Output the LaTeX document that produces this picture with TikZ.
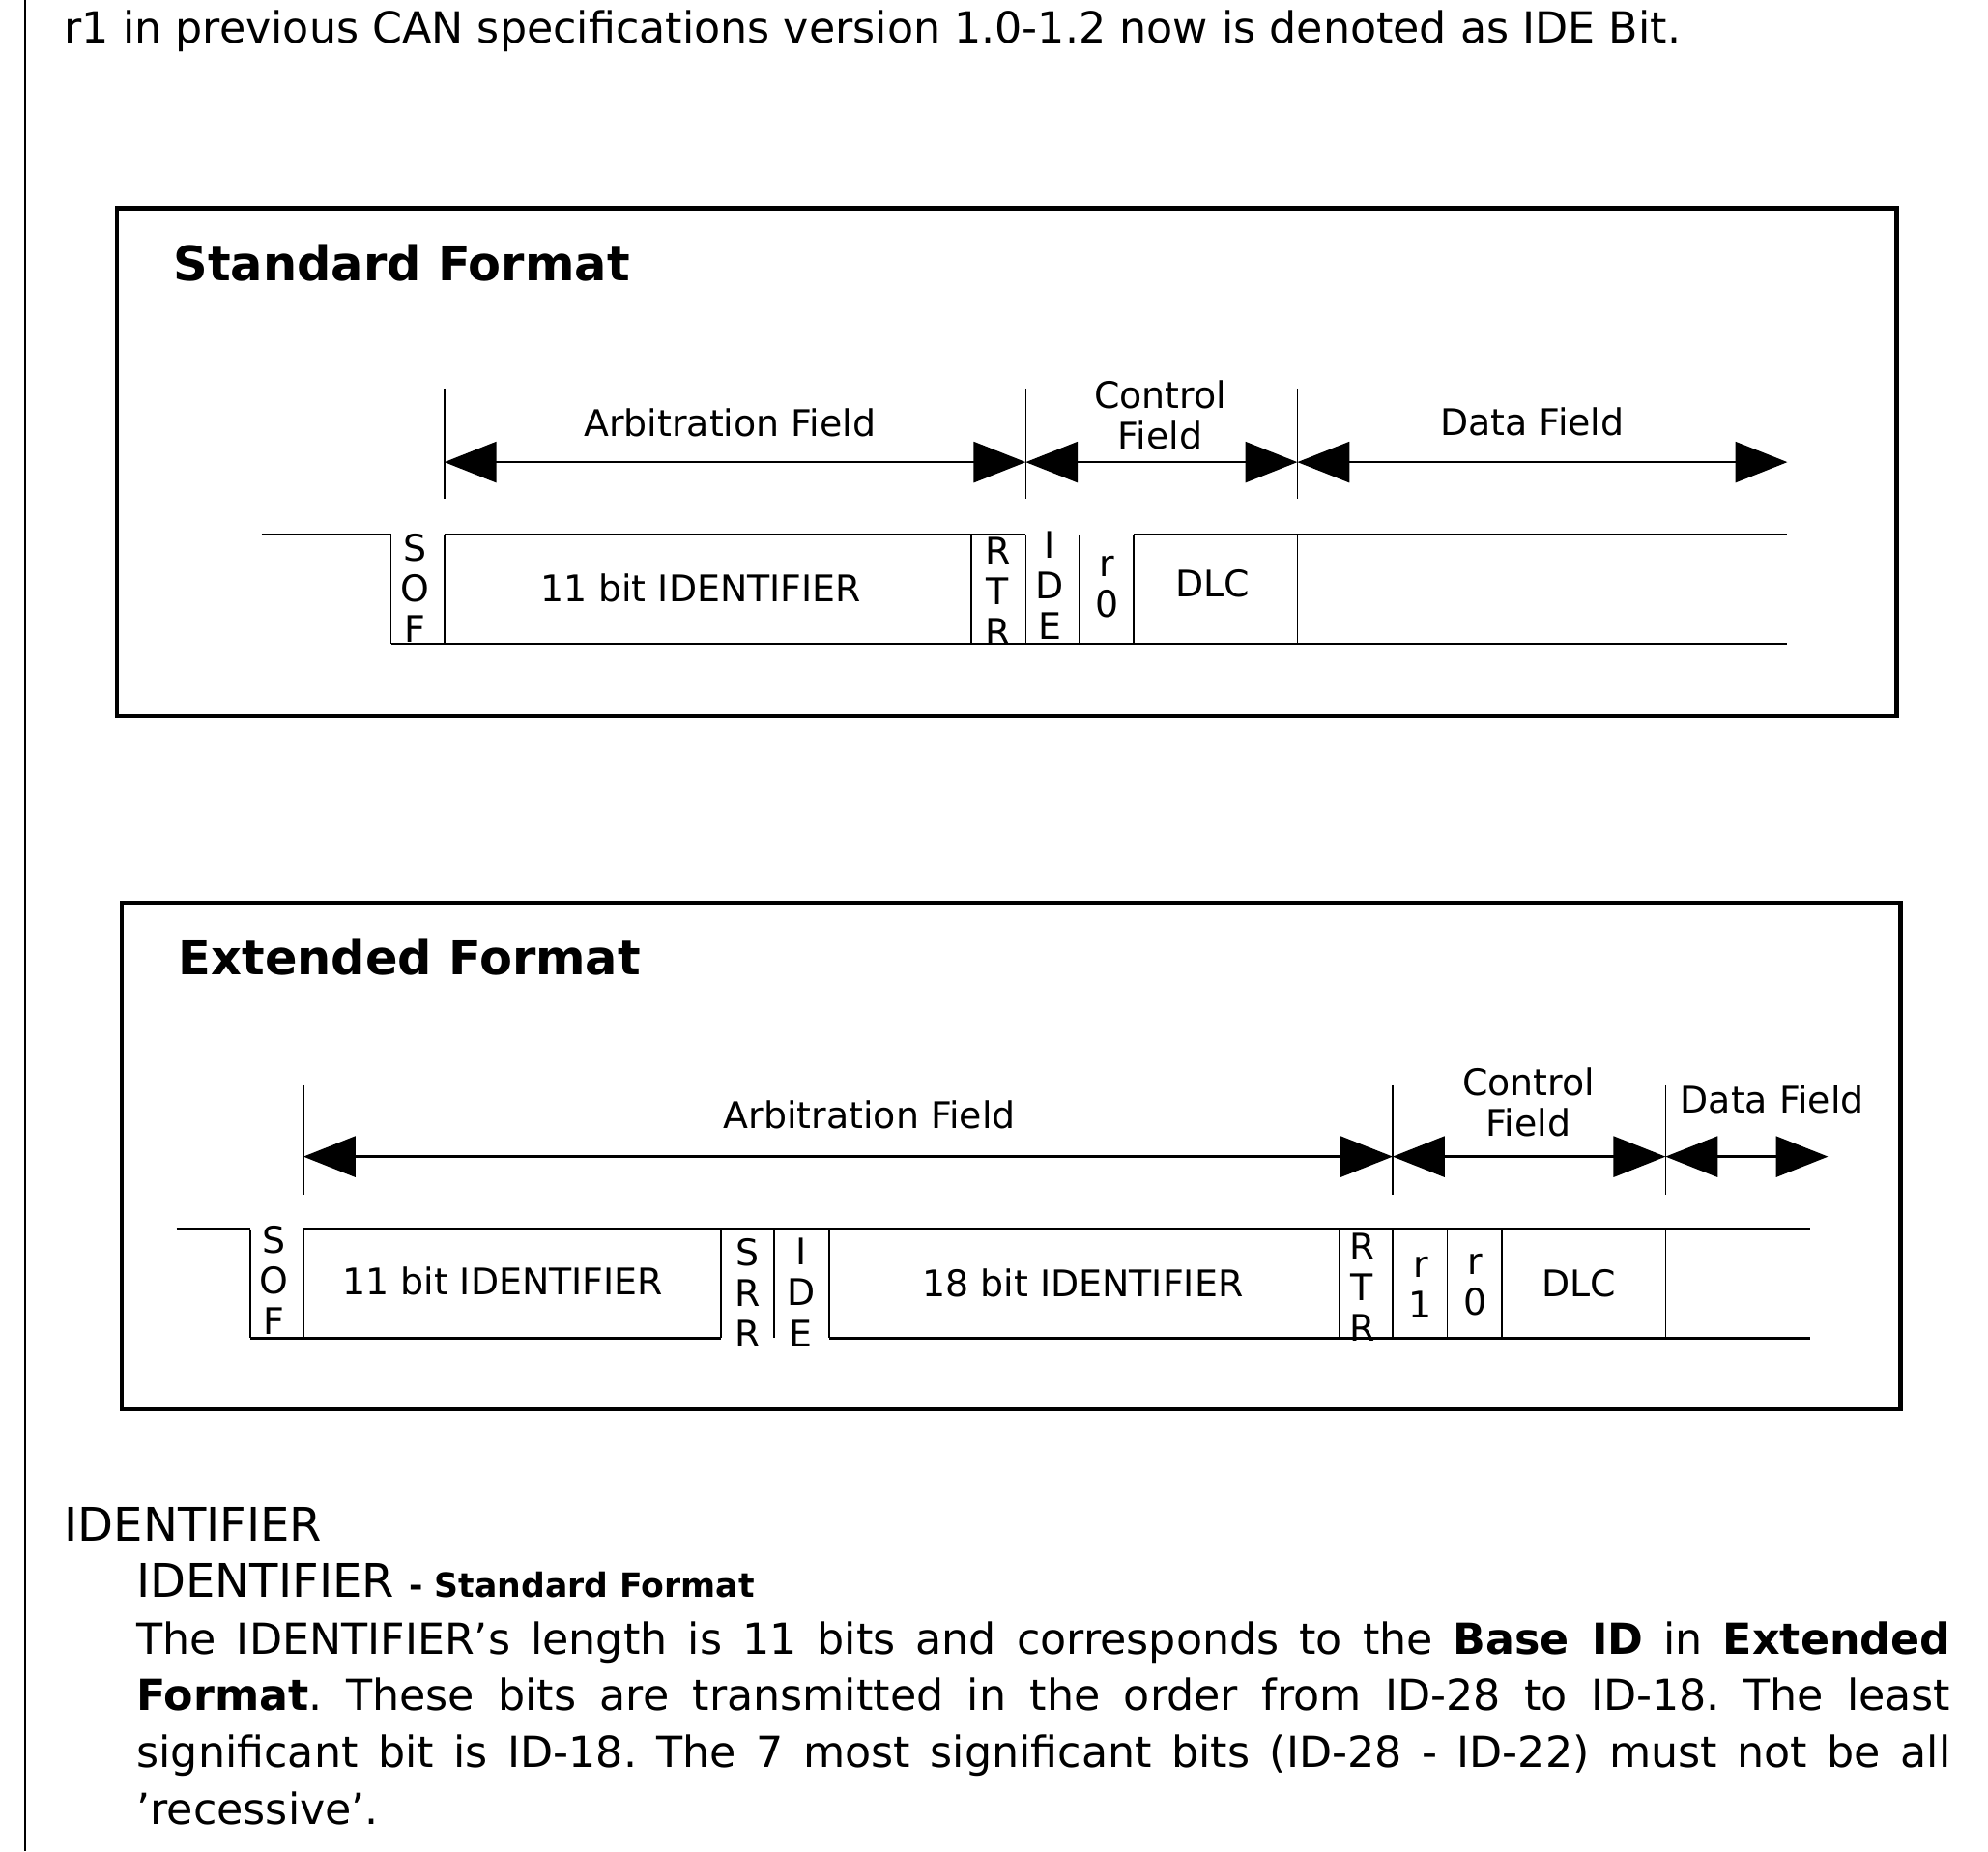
\documentclass[tikz,border=0pt]{standalone}
\usepackage{fontspec}
\setmainfont{DejaVu Sans}
\usetikzlibrary{arrows.meta}

\tikzset{
  formatbox/.style={draw, line width=1pt},
  signal/.style={line width=0.55pt},
  bitline/.style={line width=0.35pt},
  fieldtick/.style={line width=0.35pt},
  fieldarrow/.style={line width=0.55pt,
    {Triangle[length=4.1mm,width=3.2mm]}-{Triangle[length=4.1mm,width=3.2mm]}},
  fieldtext/.style={font=\fontsize{8.2}{9.1}\selectfont, inner sep=0pt},
  bittext/.style={fieldtext, align=center},
  headline/.style={font=\fontsize{10.7}{12}\selectfont\bfseries, inner sep=0pt, anchor=base west},
  bodytext/.style={font=\fontsize{9.6}{11}\selectfont\frenchspacing, inner sep=0pt, anchor=base west},
}

\begin{document}
\begin{tikzpicture}[x=0.01cm, y=-0.01cm]
  \useasboundingbox (0,0) rectangle (1566,1458);

  % Page margin
  \draw[bitline] (20,0) -- (20,1458);

  % Text above
  \node[bodytext] (note) at (50,34)
    {r1 in previous CAN specifications version 1.0-1.2 now is denoted as IDE Bit.};

  %%%%%%%%%%%%%%%% Standard Format
  \draw[formatbox] (92,164) rectangle (1494,564);
  \node[headline] (stdtitle) at (136,221) {Standard Format};

  % Define field limits
  \foreach \x/\n in {350/a, 808/b, 1022/c} {
    \draw[fieldtick] (\x,306) -- (\x,393);
    \coordinate (std\n) at (\x,364);
  }
  \coordinate (stdend) at (1408,364);

  % Define nodes
  \node[fieldtext, anchor=base] (stdarb)  at (575,344)  {Arbitration Field};
  \node[bittext]                (stdctl)  at (914,327)  {Control\\Field};
  \node[fieldtext, anchor=base] (stddata) at (1207,343) {Data Field};

  \node[bittext] (stdsof) at (327,463) {S\\O\\F};
  \node[fieldtext, anchor=base] (stdid) at (552,474) {11 bit IDENTIFIER};
  \node[bittext] (stdrtr) at (786,466) {R\\T\\R};
  \node[bittext] (stdide) at (827,461) {I\\D\\E};
  \node[bittext] (stdrz)  at (872,462) {r\\0};
  \node[fieldtext, anchor=base] (stddlc) at (955,470) {DLC};

  % Connect the nodes
  \draw[fieldarrow] (stda) -- (stdb);
  \draw[fieldarrow] (stdb) -- (stdc);
  \draw[fieldarrow] (stdc) -- (stdend);

  % Bit stream
  \draw[signal] (206,421) -- (308,421);
  \draw[signal] (350,421) -- (808,421);
  \draw[signal] (893,421) -- (1408,421);
  \draw[signal] (308,507) -- (1408,507);
  \foreach \x in {308, 350, 765, 808, 850, 893, 1022}
    \draw[bitline] (\x,421) -- (\x,507);

  %%%%%%%%%%%%%%%% Extended Format
  \draw[formatbox] (96,711) rectangle (1497,1110);
  \node[headline] (exttitle) at (140,768) {Extended Format};

  % Define field limits
  \foreach \x/\n in {239/a, 1097/b, 1312/c} {
    \draw[fieldtick] (\x,854) -- (\x,941);
    \coordinate (ext\n) at (\x,911);
  }
  \coordinate (extend) at (1440,911);

  % Define nodes
  \node[fieldtext, anchor=base] (extarb)  at (685,889)  {Arbitration Field};
  \node[bittext]                (extctl)  at (1204,868) {Control\\Field};
  \node[fieldtext, anchor=base] (extdata) at (1396,877) {Data Field};

  \node[bittext] (extsof) at (216,1008) {S\\O\\F};
  \node[fieldtext, anchor=base] (extbase) at (396,1020) {11 bit IDENTIFIER};
  \node[bittext] (extsrr) at (589,1018) {S\\R\\R};
  \node[bittext] (extide) at (631,1018) {I\\D\\E};
  \node[fieldtext, anchor=base] (extid) at (853,1021) {18 bit IDENTIFIER};
  \node[bittext] (extrtr) at (1073,1014) {R\\T\\R};
  \node[bittext] (extro)  at (1119,1014) {r\\1};
  \node[bittext] (extrz)  at (1162,1012) {r\\0};
  \node[fieldtext, anchor=base] (extdlc) at (1244,1021) {DLC};

  % Connect the nodes
  \draw[fieldarrow] (exta) -- (extb);
  \draw[fieldarrow] (extb) -- (extc);
  \draw[fieldarrow] (extc) -- (extend);

  % Bit stream
  \draw[signal] (139,968) -- (197,968);
  \draw[signal] (239,968) -- (1426,968);
  \draw[signal] (197,1054) -- (568,1054);
  \draw[signal] (653,1054) -- (1426,1054);
  \foreach \x in {197, 239, 568, 610, 653, 1055, 1097, 1140, 1183, 1312}
    \draw[bitline] (\x,968) -- (\x,1054);

  %%%%%%%%%%%%%%%% Text below
  \node[bodytext, font=\fontsize{10.4}{12}\selectfont] (idhead) at (50,1214) {IDENTIFIER};
  \node[bodytext] (idsub)  at (107,1258)
    {{\fontsize{10.4}{12}\selectfont IDENTIFIER }{\fontsize{7.5}{9}\selectfont\bfseries - Standard Format}};
  \node[bodytext] (lineone) at (107,1303)
    {\makebox[14.28cm][s]{The IDENTIFIER’s length is 11 bits and corresponds to the \textbf{Base ID} in \textbf{Extended}}};
  \node[bodytext] (linetwo) at (107,1347)
    {\makebox[14.28cm][s]{\textbf{Format}. These bits are transmitted in the order from ID-28 to ID-18. The least}};
  \node[bodytext] (linethree) at (107,1392)
    {\makebox[14.28cm][s]{significant bit is ID-18. The 7 most significant bits (ID-28 - ID-22) must not be all}};
  \node[bodytext] (linefour) at (107,1437) {’recessive’.};

\end{tikzpicture}
\end{document}
